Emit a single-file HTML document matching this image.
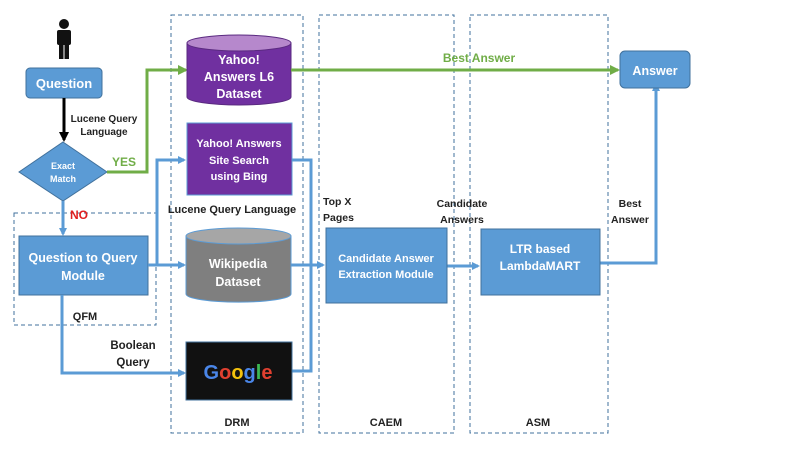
<!DOCTYPE html>
<html><head><meta charset="utf-8"><style>
html,body{margin:0;padding:0;background:#fff;}
svg{display:block;font-family:"Liberation Sans",sans-serif;font-weight:bold;}
</style></head><body>
<svg width="804" height="457" viewBox="0 0 804 457" xmlns="http://www.w3.org/2000/svg">
<defs>
<marker id="ab" markerWidth="8" markerHeight="8" refX="6" refY="4" orient="auto" markerUnits="userSpaceOnUse"><path d="M0,0 L8,4 L0,8 z" fill="#5b9bd5"/></marker>
<marker id="ag" markerWidth="10" markerHeight="10" refX="8" refY="5" orient="auto" markerUnits="userSpaceOnUse"><path d="M0,0 L10,5 L0,10 z" fill="#70ad47"/></marker>
<marker id="ak" markerWidth="10" markerHeight="10" refX="8" refY="5" orient="auto" markerUnits="userSpaceOnUse"><path d="M0,0 L10,5 L0,10 z" fill="#000"/></marker>
</defs>
<!-- dashed groups -->
<g fill="none" stroke="#41719c" stroke-width="1" stroke-dasharray="4,3">
<rect x="14" y="213" width="142" height="112"/>
<rect x="171" y="15" width="132" height="418"/>
<rect x="319" y="15" width="135" height="418"/>
<rect x="470" y="15" width="138" height="418"/>
</g>
<!-- person -->
<g fill="#111">
<circle cx="64" cy="24" r="5"/>
<rect x="57" y="30" width="14" height="15" rx="2"/>
<rect x="59" y="44" width="4.5" height="15"/>
<rect x="64.5" y="44" width="4.5" height="15"/>
</g>
<!-- Question -->
<rect x="26" y="68" width="76" height="30" rx="4" fill="#5b9bd5" stroke="#41719c"/>
<text x="64" y="88" fill="#fff" font-size="13" text-anchor="middle">Question</text>
<line x1="64" y1="98" x2="64" y2="140" stroke="#000" stroke-width="3" marker-end="url(#ak)"/>
<text x="104" y="122" font-size="10" text-anchor="middle" fill="#222">Lucene Query</text>
<text x="104" y="135" font-size="10" text-anchor="middle" fill="#222">Language</text>
<!-- diamond -->
<polygon points="63,142 107,172 63,201 19,172" fill="#5b9bd5" stroke="#41719c"/>
<text x="63" y="169" font-size="9" fill="#fff" text-anchor="middle">Exact</text>
<text x="63" y="182" font-size="9" fill="#fff" text-anchor="middle">Match</text>
<text x="124" y="166" font-size="12" fill="#70ad47" text-anchor="middle">YES</text>
<polyline points="107,172 147,172 147,70 186,70" fill="none" stroke="#70ad47" stroke-width="3" marker-end="url(#ag)"/>
<text x="79" y="219" font-size="12" fill="#e02020" text-anchor="middle">NO</text>
<line x1="63" y1="201" x2="63" y2="234" stroke="#5b9bd5" stroke-width="3" marker-end="url(#ab)"/>
<!-- QFM box -->
<rect x="19" y="236" width="129" height="59" fill="#5b9bd5" stroke="#41719c"/>
<text x="83" y="262" font-size="12.5" fill="#fff" text-anchor="middle">Question to Query</text>
<text x="83" y="280" font-size="12.5" fill="#fff" text-anchor="middle">Module</text>
<text x="85" y="320" font-size="11" fill="#222" text-anchor="middle">QFM</text>
<text x="133" y="349" font-size="11.5" fill="#222" text-anchor="middle">Boolean</text>
<text x="133" y="366" font-size="11.5" fill="#222" text-anchor="middle">Query</text>
<g fill="none" stroke="#5b9bd5" stroke-width="3">
<polyline points="62,295 62,373 184,373" marker-end="url(#ab)"/>
<line x1="148" y1="265" x2="184" y2="265" marker-end="url(#ab)"/>
<polyline points="157,265 157,160 184,160" marker-end="url(#ab)"/>
<polyline points="292,160 311,160 311,371 292,371"/>
<line x1="291" y1="265" x2="323" y2="265" marker-end="url(#ab)"/>
<line x1="447" y1="266" x2="478" y2="266" marker-end="url(#ab)"/>
<polyline points="600,263 656,263 656,85" marker-end="url(#ab)"/>
</g>
<!-- Yahoo L6 cylinder -->
<path d="M187,43 L187,97 A52,8 0 0 0 291,97 L291,43 Z" fill="#7030a0" stroke="#5a2a80"/>
<ellipse cx="239" cy="43" rx="52" ry="8" fill="#b688cc" stroke="#5a2a80"/>
<text x="239" y="64" font-size="12.5" fill="#fff" text-anchor="middle">Yahoo!</text>
<text x="239" y="81" font-size="12.5" fill="#fff" text-anchor="middle">Answers L6</text>
<text x="239" y="98" font-size="12.5" fill="#fff" text-anchor="middle">Dataset</text>
<!-- Site search -->
<rect x="187" y="123" width="105" height="72" fill="#7030a0" stroke="#5b9bd5"/>
<text x="239" y="147" font-size="11" fill="#fff" text-anchor="middle">Yahoo! Answers</text>
<text x="239" y="164" font-size="11" fill="#fff" text-anchor="middle">Site Search</text>
<text x="239" y="180" font-size="11" fill="#fff" text-anchor="middle">using Bing</text>
<text x="232" y="213" font-size="11" fill="#222" text-anchor="middle">Lucene Query Language</text>
<!-- Wikipedia -->
<path d="M186,236 L186,294 A52,8 0 0 0 291,294 L291,236 Z" fill="#7f7f7f" stroke="#5b9bd5"/>
<ellipse cx="238.5" cy="236" rx="52.5" ry="8" fill="#a6a6a6" stroke="#5b9bd5"/>
<text x="238" y="268" font-size="12.5" fill="#fff" text-anchor="middle">Wikipedia</text>
<text x="238" y="286" font-size="12.5" fill="#fff" text-anchor="middle">Dataset</text>
<!-- Google -->
<rect x="186" y="342" width="106" height="58" fill="#111" stroke="#41719c"/>
<text x="238" y="379" font-size="20" text-anchor="middle" font-family="Liberation Sans,sans-serif"><tspan fill="#4a86e8">G</tspan><tspan fill="#e04030">o</tspan><tspan fill="#f4c20d">o</tspan><tspan fill="#4a86e8">g</tspan><tspan fill="#3cba54">l</tspan><tspan fill="#e04030">e</tspan></text>
<text x="237" y="426" font-size="11" fill="#222" text-anchor="middle">DRM</text>
<!-- CAEM -->
<text x="323" y="205" font-size="10.5" fill="#222">Top X</text>
<text x="323" y="221" font-size="10.5" fill="#222">Pages</text>
<rect x="326" y="228" width="121" height="75" fill="#5b9bd5" stroke="#41719c"/>
<text x="386" y="262" font-size="11" fill="#fff" text-anchor="middle">Candidate Answer</text>
<text x="386" y="278" font-size="11" fill="#fff" text-anchor="middle">Extraction Module</text>
<text x="386" y="426" font-size="11" fill="#222" text-anchor="middle">CAEM</text>
<text x="462" y="207" font-size="10.5" fill="#222" text-anchor="middle">Candidate</text>
<text x="462" y="223" font-size="10.5" fill="#222" text-anchor="middle">Answers</text>
<!-- ASM -->
<rect x="481" y="229" width="119" height="66" fill="#5b9bd5" stroke="#41719c"/>
<text x="540" y="253" font-size="12" fill="#fff" text-anchor="middle">LTR based</text>
<text x="540" y="270" font-size="12" fill="#fff" text-anchor="middle">LambdaMART</text>
<text x="538" y="426" font-size="11" fill="#222" text-anchor="middle">ASM</text>
<text x="630" y="207" font-size="10.5" fill="#222" text-anchor="middle">Best</text>
<text x="630" y="223" font-size="10.5" fill="#222" text-anchor="middle">Answer</text>
<!-- Best answer green -->
<line x1="291" y1="70" x2="618" y2="70" stroke="#70ad47" stroke-width="3" marker-end="url(#ag)"/>
<text x="479" y="62" font-size="12" fill="#70ad47" text-anchor="middle">Best Answer</text>
<!-- Answer -->
<rect x="620" y="51" width="70" height="37" rx="5" fill="#5b9bd5" stroke="#41719c"/>
<text x="655" y="75" font-size="12.5" fill="#fff" text-anchor="middle">Answer</text>
</svg>
</body></html>
